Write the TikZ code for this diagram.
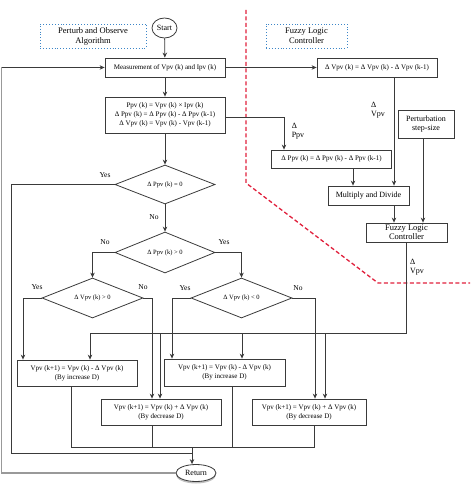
\documentclass[tikz,border=0pt]{standalone}
\usepackage{fontspec}
\setmainfont{Liberation Serif}
\usetikzlibrary{shapes.geometric,arrows.meta,calc,shadows}
\definecolor{ln}{HTML}{3A3A3A}
\definecolor{lblue}{HTML}{3C86C8}
\definecolor{dred}{HTML}{E0203C}
\begin{document}
\begin{tikzpicture}[x=1pt,y=-1pt,
  box/.style={draw=ln,line width=0.8pt,rectangle,inner sep=0pt,align=center,font=\fontsize{7}{9}\selectfont},
  bigbox/.style={box,font=\fontsize{8}{9}\selectfont},
  lbl/.style={draw=lblue,dotted,line width=0.9pt,rectangle,inner sep=0pt,align=center,font=\fontsize{8.5}{10}\selectfont},
  dia/.style={draw=ln,line width=0.8pt,diamond,aspect=2.5,inner sep=0pt,font=\fontsize{6.5}{8}\selectfont},
  ell/.style={draw=ln,line width=0.8pt,ellipse,inner sep=0pt,font=\fontsize{8}{9}\selectfont},
  yn/.style={font=\fontsize{7.5}{9}\selectfont,inner sep=0pt},
  dl/.style={font=\fontsize{8}{9}\selectfont,inner sep=0pt,align=left},
  con/.style={draw=ln,line width=0.8pt},
  arr/.style={con,-{Stealth[length=5pt,width=4.5pt]}},
  fb/.style={draw=gray!80,line width=1.8pt}
]
\useasboundingbox (0,0) rectangle (474,486);

% red dashed separator
\draw[dred,line width=1.3pt,dash pattern=on 4pt off 2.5pt] (246,10) -- (246,183) -- (378,283) -- (470,283);

% label boxes
\node[lbl,minimum width=106pt,minimum height=24pt] (pnolbl) at (93,36) {Perturb and Observe\\Algorithm};
\node[lbl,minimum width=81pt,minimum height=24pt] (flclbl) at (306.5,36) {Fuzzy Logic\\Controller};

% main nodes
\node[ell,minimum width=25pt,minimum height=20pt] (start) at (164.5,28) {Start};
\node[box,minimum width=120pt,minimum height=19pt] (meas) at (165,67.5) {Measurement of Vpv (k) and Ipv (k)};
\node[box,minimum width=120pt,minimum height=36pt] (ppv) at (165,115) {Ppv (k) = Vpv (k) × Ipv (k)\\Δ Ppv (k) = Δ Ppv (k) - Δ Ppv (k-1)\\Δ Vpv (k) = Vpv (k) - Vpv (k-1)};
\node[box,minimum width=120pt,minimum height=19pt] (dvpv) at (377,67.5) {Δ Vpv (k) = Δ Vpv (k) - Δ Vpv (k-1)};
\node[box,minimum width=120pt,minimum height=18pt] (dppv) at (331.5,159) {Δ Ppv (k) = Δ Ppv (k) - Δ Ppv (k-1)};
\node[bigbox,minimum width=56pt,minimum height=28pt] (pert) at (426,124) {Perturbation\\step-size};
\node[bigbox,minimum width=81pt,minimum height=19pt] (mult) at (368.5,195.5) {Multiply and Divide};
\node[bigbox,minimum width=81pt,minimum height=19pt,font=\fontsize{8.5}{9}\selectfont] (flc) at (406.5,232.5) {Fuzzy Logic\\Controller};

\node[dia,minimum width=100pt,minimum height=39pt] (d1) at (165,184.5) {Δ Ppv (k) = 0};
\node[dia,minimum width=100pt,minimum height=41pt] (d2) at (165,252.5) {Δ Ppv (k) > 0};
\node[dia,minimum width=101pt,minimum height=40pt] (d3) at (92.5,298) {Δ Vpv (k) > 0};
\node[dia,minimum width=101pt,minimum height=40pt] (d4) at (241.5,298) {Δ Vpv (k) < 0};

\node[box,minimum width=120pt,minimum height=26pt] (b1) at (77,373) {Vpv (k+1) = Vpv (k) - Δ Vpv (k)\\(By increase D)};
\node[box,minimum width=120pt,minimum height=26pt] (b2) at (161,412) {Vpv (k+1) = Vpv (k) + Δ Vpv (k)\\(By decrease D)};
\node[box,minimum width=121pt,minimum height=27pt] (b3) at (224.5,372.5) {Vpv (k+1) = Vpv (k) - Δ Vpv (k)\\(By increase D)};
\node[box,minimum width=114pt,minimum height=26pt] (b4) at (309,412) {Vpv (k+1) = Vpv (k) + Δ Vpv (k)\\(By decrease D)};

\node[ell,minimum width=40pt,minimum height=17pt,fill=white,drop shadow={shadow xshift=0pt,shadow yshift=-2pt,fill=gray!60,opacity=0.8}] (ret) at (196,473) {Return};

% labels
\node[yn] (l1) at (105,175) {Yes};
\node[yn] (l2) at (154,217) {No};
\node[yn] (l3) at (105,242) {No};
\node[yn] (l4) at (224,242) {Yes};
\node[yn] (l5) at (37,287) {Yes};
\node[yn] (l6) at (143,287) {No};
\node[yn] (l7) at (185,288) {Yes};
\node[yn] (l8) at (298,288) {No};
\node[dl] (dpl) at (298,131) {Δ\\Ppv};
\node[dl] (dvl1) at (378,110) {Δ\\Vpv};
\node[dl] (dvl2) at (417,267) {Δ\\Vpv};

% coordinates
\coordinate (bus) at (0,333);
\coordinate (coll) at (0,447);
\coordinate (retin) at (192,0);
\coordinate (yesx) at (11,453);
\coordinate (fbx) at (1.5,0);

% main flow
\draw[arr] (start) -- (meas);
\draw[arr] (meas) -- (ppv);
\draw[arr] (ppv) -- (d1);
\draw[arr] (d1) -- (d2);
\draw[arr] (meas.east) -- (dvpv.west);
\draw[arr] ([yshift=-2pt]ppv.east) -| ([xshift=-47.5pt]dppv.north);
\draw[arr] ([xshift=17pt]dvpv.south) coordinate (t1) -- (t1 |- mult.north);
\draw[arr] ([xshift=21.5pt]dppv.south) coordinate (t2) -- (t2 |- mult.north);
\draw[arr] ([xshift=25.5pt]mult.south) coordinate (t3) -- (t3 |- flc.north);
\draw[arr] ([xshift=-3pt]pert.south) coordinate (t4) -- (t4 |- flc.north);

% FLC output bus
\draw[con] (flc.south) |- ([xshift=13pt]b1.north |- bus);
\draw[arr] ([xshift=13pt]b1.north |- bus) -- ([xshift=13pt]b1.north);
\draw[arr] ([xshift=-1pt]b2.north |- bus) -- ([xshift=-1pt]b2.north);
\draw[arr] ([xshift=17.5pt]b3.north |- bus) -- ([xshift=17.5pt]b3.north);
\draw[arr] ([xshift=16pt]b4.north |- bus) -- ([xshift=16pt]b4.north);

% decisions
\draw[arr] (d2.west) -| (d3.north);
\draw[arr] (d2.east) -| (d4.north);
\draw[arr] (d3.west) -| ([xshift=-54pt]b1.north);
\draw[arr] (d3.east) -| ([xshift=-9pt]b2.north);
\draw[arr] (d4.west) -| ([xshift=-52.5pt]b3.north);
\draw[arr] (d4.east) -| ([xshift=6pt]b4.north);

% collection to return
\draw[con] ([xshift=-6pt]b1.south) -- ([xshift=-6pt]b1.south |- coll) -- ([xshift=5pt]b4.south |- coll) -- ([xshift=5pt]b4.south);
\draw[con] ([xshift=-9pt]b2.south) -- ([xshift=-9pt]b2.south |- coll);
\draw[con] ([xshift=7.5pt]b3.south) -- ([xshift=7.5pt]b3.south |- coll);
\draw[con] (d1.west) -| (yesx) -- (yesx -| retin);
\draw[arr] (retin |- coll) -- (retin |- ret.north);

% feedback
\draw[fb] (ret.west) -| (fbx |- meas.west);
\draw[arr] (fbx |- meas.west) -- (meas.west);
\end{tikzpicture}
\end{document}
